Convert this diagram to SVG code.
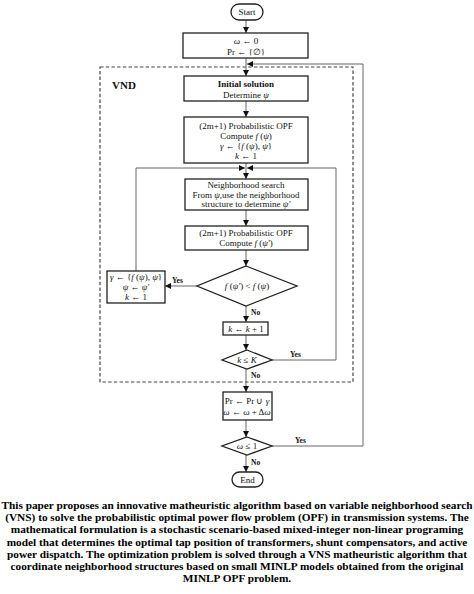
<svg xmlns="http://www.w3.org/2000/svg" width="474" height="594" viewBox="0 0 474 594">
<style>
  .box{fill:#fff;stroke:#222;stroke-width:1.3}
  .term{fill:#fff;stroke:#222;stroke-width:1.3}
  .t{font-family:"Liberation Serif","Times New Roman",serif;font-size:9px;fill:#111;text-anchor:middle}
  .b{font-weight:bold}
  .i{font-style:italic}
  .lab{font-family:"Liberation Serif","Times New Roman",serif;font-size:7.5px;font-weight:bold;fill:#111}
  .cn{fill:none;stroke:#666;stroke-width:1}
  .dash{fill:none;stroke:#444;stroke-width:1.2;stroke-dasharray:3.5,2.2}
  .cap{font-family:"Liberation Serif","Times New Roman",serif;font-size:11.3px;font-weight:bold;fill:#000;text-anchor:middle}
</style>
<defs>
  <marker id="ah" viewBox="0 0 10 10" refX="10" refY="5" markerWidth="6" markerHeight="6" orient="auto" markerUnits="userSpaceOnUse">
    <path d="M0,0 L10,5 L0,10 z" fill="#111"/>
  </marker>
</defs>
<rect width="474" height="594" fill="#fff"/>

<rect id="vnd-region" class="dash" x="100" y="67" width="253" height="315"/>
<text class="t b" x="112" y="89" style="text-anchor:start;font-size:11px">VND</text>

<g id="connectors">
  <path class="cn" d="M246,20 V33" marker-end="url(#ah)"/>
  <path class="cn" d="M246,58 V76" marker-end="url(#ah)"/>
  <path class="cn" d="M272,446 H363 V64 H247" marker-end="url(#ah)"/>
  <path class="cn" d="M246,101 V117" marker-end="url(#ah)"/>
  <path class="cn" d="M246,163 V179" marker-end="url(#ah)"/>
  <path class="cn" d="M136,271 V168 H245" marker-end="url(#ah)"/>
  <path class="cn" d="M272,360 H336 V168 H247" marker-end="url(#ah)"/>
  <path class="cn" d="M246,210 V226" marker-end="url(#ah)"/>
  <path class="cn" d="M246,250 V266" marker-end="url(#ah)"/>
  <path class="cn" d="M197,286 H165" marker-end="url(#ah)"/>
  <path class="cn" d="M246,306 V322" marker-end="url(#ah)"/>
  <path class="cn" d="M246,335 V350" marker-end="url(#ah)"/>
  <path class="cn" d="M246,369 V392" marker-end="url(#ah)"/>
  <path class="cn" d="M246,420 V437" marker-end="url(#ah)"/>
  <path class="cn" d="M246,455 V472" marker-end="url(#ah)"/>
  <text class="lab" x="172" y="283">Yes</text>
  <text class="lab" x="251" y="315">No</text>
  <text class="lab" x="290" y="357">Yes</text>
  <text class="lab" x="251" y="378">No</text>
  <text class="lab" x="295" y="443">Yes</text>
  <text class="lab" x="251" y="465">No</text>
</g>

<g id="start">
  <rect class="term" x="231" y="4" width="32" height="16" rx="8"/>
  <text class="t" x="247" y="15">Start</text>
</g>

<g id="init-omega">
  <rect class="box" x="183" y="33" width="125" height="25"/>
  <text class="t" x="246" y="44"><tspan class="i">ω</tspan> ← 0</text>
  <text class="t" x="246" y="55">Pr ← {∅}</text>
</g>

<g id="initial-solution">
  <rect class="box" x="184" y="76" width="124" height="25"/>
  <text class="t b" x="246" y="87">Initial solution</text>
  <text class="t" x="246" y="98">Determine <tspan class="i">ψ</tspan></text>
</g>

<g id="opf1">
  <rect class="box" x="184" y="117" width="124" height="46"/>
  <text class="t" x="246" y="129">(2m+1) Probabilistic OPF</text>
  <text class="t" x="246" y="139">Compute <tspan class="i">f</tspan> (<tspan class="i">ψ</tspan>)</text>
  <text class="t" x="246" y="149"><tspan class="i">γ</tspan> ← {<tspan class="i">f</tspan> (<tspan class="i">ψ</tspan>), <tspan class="i">ψ</tspan>}</text>
  <text class="t" x="246" y="159"><tspan class="i">k</tspan> ← 1</text>
</g>

<g id="neighborhood">
  <rect class="box" x="185" y="179" width="123" height="31"/>
  <text class="t" x="246" y="188">Neighborhood search</text>
  <text class="t" x="246" y="198">From <tspan class="i">ψ</tspan>,use the neighborhood</text>
  <text class="t" x="246" y="207">structure to determine <tspan class="i">ψ′</tspan></text>
</g>

<g id="opf2">
  <rect class="box" x="185" y="226" width="123" height="24"/>
  <text class="t" x="246" y="236">(2m+1) Probabilistic OPF</text>
  <text class="t" x="246" y="246">Compute <tspan class="i">f</tspan> (<tspan class="i">ψ′</tspan>)</text>
</g>

<g id="cond-improve">
  <polygon class="box" points="246,266 297,286 246,306 197,286"/>
  <text class="t" x="247" y="289"><tspan class="i">f</tspan> (<tspan class="i">ψ′</tspan>) &lt; <tspan class="i">f</tspan> (<tspan class="i">ψ</tspan>)</text>
</g>

<g id="update">
  <rect class="box" x="107" y="271" width="58" height="32"/>
  <text class="t" x="136" y="280"><tspan class="i">γ</tspan> ← {<tspan class="i">f</tspan> (<tspan class="i">ψ</tspan>), <tspan class="i">ψ</tspan>}</text>
  <text class="t" x="136" y="290"><tspan class="i">ψ</tspan> ← <tspan class="i">ψ′</tspan></text>
  <text class="t" x="136" y="300"><tspan class="i">k</tspan> ← 1</text>
</g>

<g id="k-inc">
  <rect class="box" x="223" y="322" width="45" height="13"/>
  <text class="t" x="246" y="331.5"><tspan class="i">k</tspan> ← <tspan class="i">k</tspan> + 1</text>
</g>

<g id="cond-k">
  <polygon class="box" points="247,350 272,360 247,369 222,360"/>
  <text class="t" x="247" y="363"><tspan class="i">k</tspan> ≤ <tspan class="i">K</tspan></text>
</g>

<g id="update-pr">
  <rect class="box" x="223" y="392" width="49" height="28"/>
  <text class="t" x="247" y="404">Pr ← Pr ∪ <tspan class="i">γ</tspan></text>
  <text class="t" x="247" y="415"><tspan class="i">ω</tspan> ← <tspan class="i">ω</tspan> + Δ<tspan class="i">ω</tspan></text>
</g>

<g id="cond-omega">
  <polygon class="box" points="247,437 272,446 247,455 222,446"/>
  <text class="t" x="247" y="449"><tspan class="i">ω</tspan> ≤ 1</text>
</g>

<g id="end">
  <rect class="term" x="232" y="472" width="31" height="15" rx="7.5"/>
  <text class="t" x="247.5" y="482.5">End</text>
</g>

<g id="caption">
  <text class="cap" x="237" y="509">This paper proposes an innovative matheuristic algorithm based on variable neighborhood search</text>
  <text class="cap" x="237" y="521">(VNS) to solve the probabilistic optimal power flow problem (OPF) in transmission systems. The</text>
  <text class="cap" x="237" y="533">mathematical formulation is a stochastic scenario-based mixed-integer non-linear programing</text>
  <text class="cap" x="237" y="546">model that determines the optimal tap position of transformers, shunt compensators, and active</text>
  <text class="cap" x="237" y="558">power dispatch. The optimization problem is solved through a VNS matheuristic algorithm that</text>
  <text class="cap" x="237" y="570">coordinate neighborhood structures based on small MINLP models obtained from the original</text>
  <text class="cap" x="237" y="582">MINLP OPF problem.</text>
</g>
</svg>
